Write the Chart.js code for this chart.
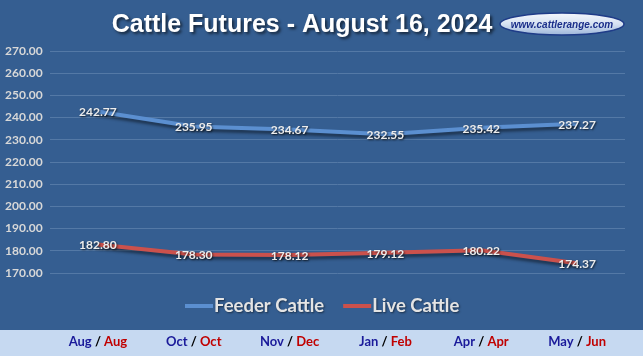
<!DOCTYPE html>
<html><head><meta charset="utf-8">
<script src="https://cdn.jsdelivr.net/npm/chart.js@4.4.1/dist/chart.umd.min.js"></script>
<style>html,body{margin:0;padding:0;background:#355E91;}#wrap{width:643px;height:356px;position:relative;}</style>
</head><body><div id="wrap"><canvas id="c" width="643" height="356"></canvas></div>
<script>
const feederMonths = ["Aug","Oct","Nov","Jan","Apr","May"];
const liveMonths = ["Aug","Oct","Dec","Feb","Apr","Jun"];
const feederCattle = [242.77,235.95,234.67,232.55,235.42,237.27];
const liveCattle = [182.80,178.30,178.12,179.12,180.22,174.37];
const yTicks = [170,180,190,200,210,220,230,240,250,260,270];
const titleText = "Cattle Futures - August 16, 2024";
const categories = feederMonths.map((m,i)=>m+" / "+liveMonths[i]);

const bgPlugin = {
  id:'bg',
  beforeDraw(chart){
    const ctx=chart.ctx;
    ctx.save();
    ctx.fillStyle='#355E91';
    ctx.fillRect(0,0,chart.width,chart.height);
    ctx.fillStyle='#C6D9F1';
    ctx.fillRect(0,330,chart.width,chart.height-330);
    // title
    ctx.font='bold 25px "Liberation Sans", Arial, sans-serif';
    ctx.textAlign='center';ctx.textBaseline='middle';
    ctx.shadowColor='rgba(0,0,0,0.6)';ctx.shadowOffsetX=2;ctx.shadowOffsetY=2;ctx.shadowBlur=3;
    ctx.fillStyle='#FFFFFF';
    ctx.fillText(titleText,302,25);
    ctx.shadowColor='transparent';
    // logo
    const cx=562,cy=24;
    const g=ctx.createLinearGradient(0,cy-11,0,cy+11);
    g.addColorStop(0,'#F4F7FC');g.addColorStop(0.5,'#D6E2F2');g.addColorStop(1,'#9DB6DA');
    ctx.beginPath();ctx.ellipse(cx,cy,62,11,0,0,Math.PI*2);
    ctx.fillStyle=g;ctx.fill();
    ctx.lineWidth=1.5;ctx.strokeStyle='#1F3C88';ctx.stroke();
    ctx.font='italic bold 10px "Liberation Sans Narrow", "Liberation Sans", sans-serif';
    ctx.fillStyle='#1B2F8A';
    ctx.fillText('www.cattlerange.com',cx,cy+1);
    ctx.restore();
  }
};

const shadowPlugin = {
  id:'lineShadow',
  beforeDatasetDraw(chart){
    const ctx=chart.ctx;ctx.save();
    ctx.shadowColor='rgba(0,0,0,0.45)';ctx.shadowOffsetX=1;ctx.shadowOffsetY=3;ctx.shadowBlur=3;
  },
  afterDatasetDraw(chart){chart.ctx.restore();}
};

const labelsPlugin = {
  id:'extras',
  afterDatasetsDraw(chart){
    const ctx=chart.ctx;
    ctx.save();
    ctx.font='bold 12px Lato, "Open Sans", sans-serif';
    ctx.textAlign='center';ctx.textBaseline='middle';
    chart.data.datasets.forEach((ds,di)=>{
      const meta=chart.getDatasetMeta(di);
      meta.data.forEach((pt,i)=>{
        ctx.shadowColor='rgba(0,0,0,0.7)';ctx.shadowOffsetX=1;ctx.shadowOffsetY=1;ctx.shadowBlur=2;
        ctx.fillStyle='#EDEDED';
        ctx.fillText(ds.data[i].toFixed(2),pt.x,pt.y+1);
      });
    });
    ctx.shadowColor='transparent';
    // legend
    ctx.font='bold 18.5px Lato, "Open Sans", sans-serif';
    ctx.textAlign='left';
    const ly=306;
    let x=185;
    chart.data.datasets.forEach((ds,di)=>{
      ctx.strokeStyle=ds.borderColor;ctx.lineWidth=4;
      ctx.beginPath();ctx.moveTo(x,ly);ctx.lineTo(x+28,ly);ctx.stroke();
      x+=29;
      ctx.shadowColor='rgba(0,0,0,0.5)';ctx.shadowOffsetX=1;ctx.shadowOffsetY=1;ctx.shadowBlur=2;
      ctx.fillStyle='#E4E4E4';
      ctx.fillText(ds.label,x,ly);
      ctx.shadowColor='transparent';
      x+=ctx.measureText(ds.label).width+19;
    });
    // x labels
    const xs=chart.scales.x;
    ctx.font='bold 13px Lato, "Open Sans", sans-serif';
    const ty=342;
    categories.forEach((c,i)=>{
      const px=xs.getPixelForValue(i);
      const a=feederMonths[i], s=' / ', b=liveMonths[i];
      const wa=ctx.measureText(a).width, ws=ctx.measureText(s).width, wb=ctx.measureText(b).width;
      let sx=px-(wa+ws+wb)/2;
      ctx.fillStyle='#1A1A9A';ctx.fillText(a,sx,ty);sx+=wa;
      ctx.fillStyle='#000000';ctx.fillText(s,sx,ty);sx+=ws;
      ctx.fillStyle='#C00000';ctx.fillText(b,sx,ty);
    });
    ctx.restore();
  }
};

new Chart(document.getElementById('c'),{
  type:'line',
  data:{
    labels:categories,
    datasets:[
      {label:'Feeder Cattle',data:feederCattle,borderColor:'#5B8FD0',borderWidth:4,pointRadius:0,tension:0,fill:false},
      {label:'Live Cattle',data:liveCattle,borderColor:'#CB514C',borderWidth:4,pointRadius:0,tension:0,fill:false}
    ]
  },
  options:{
    responsive:false,animation:false,devicePixelRatio:1,
    layout:{padding:{top:51,right:18,left:5,bottom:0}},
    plugins:{legend:{display:false},title:{display:false},tooltip:{enabled:false}},
    scales:{
      x:{offset:true,grid:{display:false},border:{display:false},ticks:{display:false},
         afterFit(s){s.height=83;}},
      y:{min:170,max:270,
         afterBuildTicks(s){s.ticks=yTicks.map(v=>({value:v}));},
         grid:{color:'#5479A6',lineWidth:1,drawTicks:false},border:{display:false},
         ticks:{crossAlign:'far',padding:6,color:'#D8D8D8',font:{family:'Lato, "Open Sans", sans-serif',size:12,weight:'bold'},
           callback:v=>v.toFixed(2)},
         afterFit(s){s.width=45;}}
    }
  },
  plugins:[bgPlugin,shadowPlugin,labelsPlugin]
});
</script></body></html>
